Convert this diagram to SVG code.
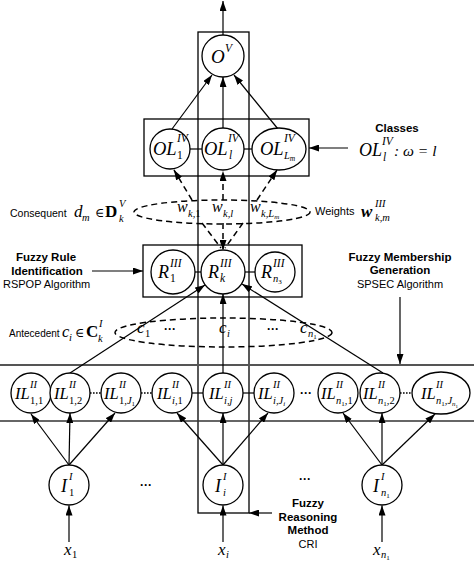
<svg xmlns="http://www.w3.org/2000/svg" width="474" height="564" viewBox="0 0 474 564">
<defs>
<marker id="ah" viewBox="0 0 10 7" refX="10" refY="3.5" markerWidth="10" markerHeight="7" markerUnits="userSpaceOnUse" orient="auto">
<path d="M0,0 L10,3.5 L0,7 z" fill="#000"/>
</marker>
<style>
.ln{stroke:#000;stroke-width:1.2;fill:none}
.ds{stroke-dasharray:6,4;stroke-width:1.5}
.dt{stroke:#000;stroke-width:1.6;stroke-dasharray:1.6,1.4}
.nd{fill:#fff;stroke:#000;stroke-width:1.3}
.bx{fill:none;stroke:#000;stroke-width:1.3}
.hl{stroke:#555;stroke-width:2}
.m{font-family:'Liberation Serif','DejaVu Serif','Times New Roman',serif;font-style:italic;font-size:16.5px;fill:#000}
.sc{font-size:10.5px}
.r{font-style:normal}
.t{font-family:'Liberation Sans',Arial,sans-serif;font-size:11px;fill:#000}
.tb{font-weight:bold;font-size:11.5px}
.dots{font-family:'Liberation Sans',Arial,sans-serif;font-weight:bold;font-size:12px;text-anchor:middle}
</style>
</defs>
<rect width="474" height="564" fill="#fff"/>

<g id="frames">
<rect class="bx" x="198" y="32" width="51" height="481"/>
<line class="hl" x1="0" y1="365" x2="474" y2="365"/>
<line class="hl" x1="0" y1="421" x2="474" y2="421" style="stroke-width:1.5;stroke:#333"/>
<rect class="bx" x="144" y="119" width="165" height="57"/>
<rect class="bx" x="143" y="245" width="159" height="52"/>
<ellipse class="ln ds" cx="222" cy="212" rx="88" ry="12"/>
<ellipse class="ln ds" cx="223.5" cy="332.5" rx="108.5" ry="14.5"/>
</g>

<g id="connectors" class="ln">
<line x1="223" y1="35" x2="223" y2="1" marker-end="url(#ah)"/>
<line x1="172" y1="129" x2="212" y2="75" marker-end="url(#ah)"/>
<line x1="223" y1="128" x2="223" y2="77" marker-end="url(#ah)"/>
<line x1="278" y1="129" x2="234" y2="75" marker-end="url(#ah)"/>
<line class="ds" x1="192" y1="200" x2="174" y2="170" marker-end="url(#ah)"/>
<line class="ds" x1="223" y1="200" x2="223" y2="171" marker-end="url(#ah)"/>
<line class="ds" x1="257" y1="200" x2="277" y2="170" marker-end="url(#ah)"/>
<line class="ds" x1="202" y1="223" x2="221" y2="248"/>
<line class="ds" x1="243" y1="223" x2="225" y2="248"/>
<line class="ds" x1="223" y1="223" x2="223" y2="250" marker-end="url(#ah)"/>
<line x1="348" y1="148" x2="309" y2="148" marker-end="url(#ah)"/>
<line x1="92" y1="271" x2="143" y2="271" marker-end="url(#ah)"/>
<line x1="400" y1="297" x2="400" y2="364" marker-end="url(#ah)"/>
<line x1="272" y1="513" x2="249" y2="513" marker-end="url(#ah)"/>
<line x1="70" y1="373" x2="205" y2="285" marker-end="url(#ah)"/>
<line x1="223" y1="373" x2="223" y2="294" marker-end="url(#ah)"/>
<line x1="383" y1="373" x2="242" y2="284" marker-end="url(#ah)"/>
<line x1="69" y1="465" x2="31" y2="414" marker-end="url(#ah)"/>
<line x1="69" y1="465" x2="70" y2="413" marker-end="url(#ah)"/>
<line x1="69" y1="465" x2="115" y2="413" marker-end="url(#ah)"/>
<line x1="223" y1="465" x2="177" y2="413" marker-end="url(#ah)"/>
<line x1="223" y1="465" x2="223" y2="413" marker-end="url(#ah)"/>
<line x1="223" y1="465" x2="268" y2="413" marker-end="url(#ah)"/>
<line x1="382" y1="465" x2="343" y2="413" marker-end="url(#ah)"/>
<line x1="382" y1="465" x2="382" y2="413" marker-end="url(#ah)"/>
<line x1="382" y1="465" x2="435" y2="414" marker-end="url(#ah)"/>
<line x1="69" y1="542" x2="69" y2="505.5" marker-end="url(#ah)"/>
<line x1="223" y1="542" x2="223" y2="505.5" marker-end="url(#ah)"/>
<line x1="382" y1="542" x2="382" y2="505.5" marker-end="url(#ah)"/>
<line x1="190" y1="149" x2="202" y2="149"/>
<line x1="244" y1="149" x2="252" y2="149"/>
<line x1="195" y1="272" x2="201" y2="272"/>
<line x1="245" y1="272" x2="255" y2="272"/>
<line class="dt" x1="90" y1="393" x2="101" y2="393"/>
<line class="dt" x1="141" y1="393" x2="152" y2="393"/>
<line x1="192" y1="393" x2="203" y2="393"/>
<line x1="243" y1="393" x2="254" y2="393"/>
<line class="dt" x1="400" y1="393" x2="412" y2="393"/>
</g>

<g id="O5">
<circle class="nd" cx="223" cy="56" r="21"/>
<text class="m" x="211" y="63" style="font-size:19px">O</text><text class="m" x="225" y="52" style="font-size:11.5px">V</text>
</g>
<g id="OL1">
<circle class="nd" cx="170" cy="149" r="20"/>
<text class="m" x="153" y="155" style="font-size:18.5px">OL</text><text class="m" x="177" y="142" style="font-size:11.5px">IV</text><text class="m r" x="177" y="159" style="font-size:11.5px">1</text>
</g>
<g id="OLl">
<circle class="nd" cx="223" cy="149" r="21"/>
<text class="m" x="204" y="155" style="font-size:18.5px">OL</text><text class="m" x="228" y="142" style="font-size:11.5px">IV</text><text class="m" x="229" y="159" style="font-size:11.5px">l</text>
</g>
<g id="OLLm">
<ellipse class="nd" cx="279" cy="149" rx="27" ry="21"/>
<text class="m" x="260" y="155" style="font-size:18.5px">OL</text><text class="m" x="284" y="142" style="font-size:11.5px">IV</text><text class="m" x="284" y="159" style="font-size:10.5px">L<tspan font-size="7.5" dy="2">m</tspan></text>
</g>
<g id="classes">
<text class="t tb" x="397" y="132" text-anchor="middle">Classes</text>
<text class="m" x="359" y="156" style="font-size:18px">OL</text><text class="m" x="382" y="145" style="font-size:11.5px">IV</text><text class="m" x="383" y="161" style="font-size:11.5px">l</text>
<text class="m" x="394" y="156" style="font-size:15.5px">: ω = l</text>
</g>

<g id="weights">
<text class="m" x="177" y="212" style="font-size:16px">w</text><text class="m sc" x="188" y="217">k,<tspan class="r">1</tspan></text>
<text class="m" x="212" y="212" style="font-size:16px">w</text><text class="m sc" x="223" y="217">k,l</text>
<text class="m" x="250" y="212" style="font-size:16px">w</text><text class="m sc" x="261" y="217">k,L<tspan font-size="7" dy="2">m</tspan></text>
</g>
<g id="consequent">
<text class="t" x="10" y="217" style="font-size:10.5px">Consequent</text>
<text class="m" x="74" y="217" style="font-size:17px">d</text><text class="m sc" x="82" y="221">m</text>
<text class="m r" x="95" y="217" style="font-size:12.5px">∈</text>
<text class="m r" x="105" y="217" style="font-weight:bold;font-size:17px">D</text><text class="m sc" x="119" y="207">V</text><text class="m sc" x="119" y="222">k</text>
</g>
<g id="weightslabel">
<text class="t" x="315" y="215">Weights</text>
<text class="m" x="361" y="217" style="font-weight:bold;font-size:17px">w</text><text class="m sc" x="375" y="207">III</text><text class="m sc" x="375" y="221">k,m</text>
</g>

<g id="R1">
<circle class="nd" cx="173" cy="272" r="22"/>
<text class="m" x="158" y="278" style="font-size:18px">R</text><text class="m" x="170" y="267" style="font-size:11.5px">III</text><text class="m r" x="170" y="282" style="font-size:11.5px">1</text>
</g>
<g id="Rk">
<circle class="nd" cx="223" cy="272" r="22"/>
<text class="m" x="208" y="278" style="font-size:18px">R</text><text class="m" x="220" y="267" style="font-size:11.5px">III</text><text class="m" x="220" y="282" style="font-size:11.5px">k</text>
</g>
<g id="Rn3">
<circle class="nd" cx="275" cy="272" r="20"/>
<text class="m" x="261" y="278" style="font-size:18px">R</text><text class="m" x="273" y="267" style="font-size:11.5px">III</text><text class="m" x="273" y="282" style="font-size:10.5px">n<tspan class="r" font-size="7" dy="2">3</tspan></text>
</g>
<g id="fuzzyrule">
<text class="t tb" x="46" y="261" text-anchor="middle">Fuzzy Rule</text>
<text class="t tb" x="47" y="275" text-anchor="middle">Identification</text>
<text class="t" x="3" y="288">RSPOP Algorithm</text>
</g>
<g id="fuzzymembership">
<text class="t tb" x="400" y="261" text-anchor="middle">Fuzzy Membership</text>
<text class="t tb" x="400" y="274" text-anchor="middle">Generation</text>
<text class="t" x="400" y="288" text-anchor="middle">SPSEC Algorithm</text>
</g>

<g id="antecedent">
<text class="t" x="9" y="337" style="font-size:10px">Antecedent</text>
<text class="m" x="62" y="337">c</text><text class="m sc" x="69" y="341">i</text>
<text class="m r" x="75" y="337" style="font-size:12.5px">∈</text>
<text class="m r" x="86" y="337" style="font-weight:bold;font-size:17px">C</text><text class="m sc" x="99" y="327">I</text><text class="m sc" x="98" y="342">k</text>
<text class="m" x="137" y="333" style="font-size:17px">c</text><text class="m sc r" x="145" y="337">1</text>
<text class="dots" x="170" y="333">···</text>
<text class="m" x="219" y="333" style="font-size:17px">c</text><text class="m sc" x="227" y="337">i</text>
<text class="dots" x="273" y="333">···</text>
<text class="m" x="300" y="333" style="font-size:17px">c</text><text class="m sc" x="308" y="337">n<tspan class="r" font-size="7" dy="2">1</tspan></text>
</g>

<g id="IL11"><circle class="nd" cx="31" cy="393" r="20"/>
<text class="m" x="15" y="399">IL</text><text class="m sc" x="30" y="388">II</text><text class="m sc r" x="30" y="404">1,1</text></g>
<g id="IL12"><circle class="nd" cx="70" cy="393" r="20"/>
<text class="m" x="54" y="399">IL</text><text class="m sc" x="69" y="388">II</text><text class="m sc r" x="69" y="404">1,2</text></g>
<g id="IL1J1"><circle class="nd" cx="121" cy="393" r="20"/>
<text class="m" x="104" y="399">IL</text><text class="m sc" x="119" y="388">II</text><text class="m sc" x="119" y="404"><tspan class="r">1,</tspan>J<tspan class="r" font-size="7" dy="2">1</tspan></text></g>
<g id="ILi1"><circle class="nd" cx="172" cy="393" r="20"/>
<text class="m" x="157" y="399">IL</text><text class="m sc" x="172" y="388">II</text><text class="m sc" x="172" y="404">i<tspan class="r">,1</tspan></text></g>
<g id="ILij"><circle class="nd" cx="223" cy="393" r="20"/>
<text class="m" x="209" y="399">IL</text><text class="m sc" x="224" y="388">II</text><text class="m sc" x="224" y="404">i,j</text></g>
<g id="ILiJi"><circle class="nd" cx="274" cy="393" r="20"/>
<text class="m" x="258" y="399">IL</text><text class="m sc" x="273" y="388">II</text><text class="m sc" x="273" y="404">i,J<tspan font-size="7" dy="2">i</tspan></text></g>
<text class="dots" x="306" y="397">···</text>
<g id="ILn11"><circle class="nd" cx="338" cy="393" r="20"/>
<text class="m" x="321" y="399">IL</text><text class="m sc" x="336" y="388">II</text><text class="m sc" x="336" y="404">n<tspan class="r" font-size="7" dy="2">1</tspan><tspan class="r" dy="-2">,1</tspan></text></g>
<g id="ILn12"><circle class="nd" cx="380" cy="393" r="20"/>
<text class="m" x="363" y="399">IL</text><text class="m sc" x="378" y="388">II</text><text class="m sc" x="378" y="404">n<tspan class="r" font-size="7" dy="2">1</tspan><tspan class="r" dy="-2">,2</tspan></text></g>
<g id="ILn1Jn1"><ellipse class="nd" cx="441" cy="393" rx="29" ry="21"/>
<text class="m" x="421" y="399">IL</text><text class="m sc" x="436" y="388">II</text><text class="m sc" x="436" y="404">n<tspan class="r" font-size="7" dy="2">1</tspan><tspan dy="-2">,J</tspan><tspan font-size="7" dy="2">n</tspan><tspan class="r" font-size="5" dy="1.5">1</tspan></text></g>

<g id="I1"><circle class="nd" cx="69" cy="485" r="20"/>
<text class="m" x="61" y="492" style="font-size:18px">I</text><text class="m sc" x="69" y="480">I</text><text class="m sc r" x="69" y="496">1</text></g>
<g id="Ii"><circle class="nd" cx="223" cy="485" r="20"/>
<text class="m" x="215" y="492" style="font-size:18px">I</text><text class="m sc" x="223" y="480">I</text><text class="m sc" x="223" y="496">i</text></g>
<g id="In1"><circle class="nd" cx="382" cy="485" r="20"/>
<text class="m" x="373" y="492" style="font-size:18px">I</text><text class="m sc" x="381" y="480">I</text><text class="m sc" x="381" y="496">n<tspan class="r" font-size="7" dy="2">1</tspan></text></g>
<text class="dots" x="146" y="489">···</text>
<text class="dots" x="305" y="483">···</text>

<g id="fuzzyreasoning">
<text class="t tb" x="308" y="507" text-anchor="middle">Fuzzy</text>
<text class="t tb" x="308" y="521" text-anchor="middle">Reasoning</text>
<text class="t tb" x="308" y="534" text-anchor="middle">Method</text>
<text class="t" x="308" y="548" text-anchor="middle">CRI</text>
</g>

<g id="inputs">
<text class="m" x="64" y="555" style="font-size:17px">x</text><text class="m sc r" x="72" y="558">1</text>
<text class="m" x="218" y="555" style="font-size:17px">x</text><text class="m sc" x="226" y="558">i</text>
<text class="m" x="373" y="555" style="font-size:17px">x</text><text class="m sc" x="381" y="558">n<tspan class="r" font-size="7" dy="2">1</tspan></text>
</g>
</svg>
